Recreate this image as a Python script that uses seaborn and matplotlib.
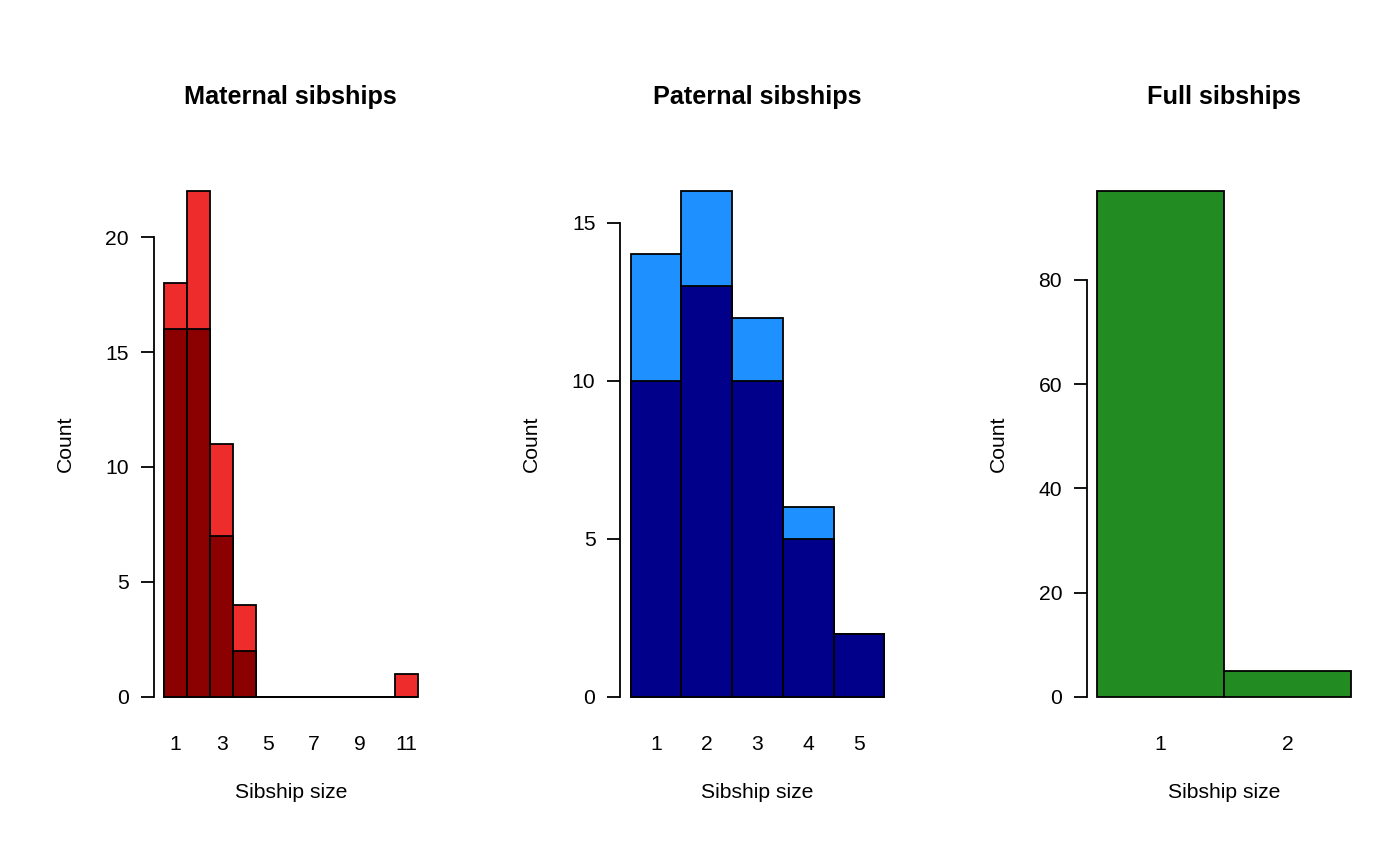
import matplotlib
matplotlib.use("Agg")
import matplotlib.pyplot as plt
import seaborn as sns
import pandas as pd

# ---- data ----
mat_sizes = [1, 2, 3, 4, 5, 6, 7, 8, 9, 10, 11]
mat_total = [18, 22, 11, 4, 0, 0, 0, 0, 0, 0, 1]
mat_dark = [16, 16, 7, 2, 0, 0, 0, 0, 0, 0, 0]
mat_ticklabels = ["1", "3", "5", "7", "9", "11"]

pat_sizes = [1, 2, 3, 4, 5]
pat_total = [14, 16, 12, 6, 2]
pat_dark = [10, 13, 10, 5, 2]

full_sizes = [1, 2]
full_counts = [97, 5]

titles = ["Maternal sibships", "Paternal sibships", "Full sibships"]

sns.set_theme(style="ticks")
plt.rcParams["font.family"] = ["Liberation Sans", "DejaVu Sans"]

W, H = 1400, 866
fig = plt.figure(figsize=(W / 100, H / 100), dpi=100)

panel_w = W / 3
left_off = 153.8
ax_w = 274
ax_bottom = 149
ax_h = 546

TICK_FS = 15.2
TITLE_FS = 18.2
LW = 1.3

panels = [
    (mat_sizes, mat_total, mat_dark, "#EE2C2C", "#8B0000", [0, 5, 10, 15, 20]),
    (pat_sizes, pat_total, pat_dark, "#1E90FF", "#00008B", [0, 5, 10, 15]),
    (full_sizes, full_counts, None, "#228B22", None, [0, 20, 40, 60, 80]),
]

for i, (sizes, total, dark, c_light, c_dark, yticks) in enumerate(panels):
    ax = fig.add_axes([(left_off + panel_w * i) / W, ax_bottom / H, ax_w / W, ax_h / H])
    df = pd.DataFrame({"size": sizes, "total": total})
    sns.barplot(data=df, x="size", y="total", color=c_light, saturation=1,
                width=1, edgecolor="black", linewidth=LW, errorbar=None, ax=ax)
    if dark is not None:
        df2 = pd.DataFrame({"size": sizes, "dark": dark})
        sns.barplot(data=df2, x="size", y="dark", color=c_dark, saturation=1,
                    width=1, edgecolor="black", linewidth=LW, errorbar=None, ax=ax)
    n = len(sizes)
    ax.set_xlim(-0.5 - 0.04 * n, n - 0.5 + 0.04 * n)
    ymax = max(total)
    ax.set_ylim(-0.04 * ymax, ymax * 1.04)

    # x ticks
    if i == 0:
        pos = [k for k in range(n) if k % 2 == 0]
        ax.set_xticks(pos)
        ax.set_xticklabels(mat_ticklabels)
    else:
        ax.set_xticks(range(n))
        ax.set_xticklabels([str(s) for s in sizes])
    ax.tick_params(axis="x", length=0, pad=13, labelsize=TICK_FS, colors="black")

    ax.set_yticks(yticks)
    ax.set_yticklabels([str(t) for t in yticks])
    ax.tick_params(axis="y", length=9.4, width=LW, pad=8.6, labelsize=TICK_FS,
                   colors="black", direction="out")

    for s in ["top", "right", "bottom"]:
        ax.spines[s].set_visible(False)
    ax.spines["left"].set_bounds(yticks[0], yticks[-1])
    ax.spines["left"].set_linewidth(LW)
    ax.spines["left"].set_color("black")

    ax.set_xlabel("Sibship size", fontsize=TICK_FS, va="center", color="black")
    ax.xaxis.set_label_coords(0.5, ((H - 792) - ax_bottom) / ax_h)
    ax.set_ylabel("Count", fontsize=TICK_FS, va="center", color="black")
    ax.yaxis.set_label_coords((65 - left_off) / ax_w, 0.5)
    ax.set_title(titles[i], fontsize=TITLE_FS, fontweight="bold", pad=0,
                 y=(H - 97 - ax_bottom) / ax_h, va="center", color="black")
    ax.set_facecolor("white")

fig.savefig("out.png", dpi=100, facecolor="white")
